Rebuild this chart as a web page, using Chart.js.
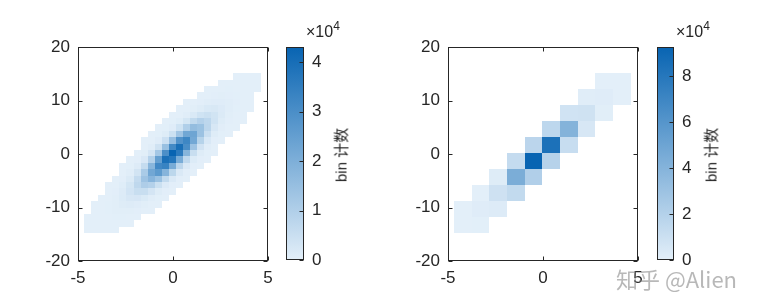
<!DOCTYPE html>
<html lang="zh-CN">
<head>
<meta charset="UTF-8">
<title>histogram2 tile</title>
<script src="https://cdn.jsdelivr.net/npm/chart.js"></script>
<style>
  body { margin: 0; background: #fff; }
  #fig { position: relative; width: 761px; height: 307px; overflow: hidden; color: #262626;
         font-family: "Liberation Sans", Arial, sans-serif; }
  #fig canvas { position: absolute; top: 0; }
  .cbtitle { position: absolute; font-size: 15px; white-space: nowrap; line-height: 15px;
             transform: translate(-50%, -50%) rotate(-90deg);
             font-family: "Liberation Sans", "Noto Sans CJK SC", sans-serif; }
  .expo { position: absolute; font-size: 16px; line-height: 18px; white-space: nowrap; }
  .expo sup { font-size: 12px; vertical-align: 7px; line-height: 0; }
  .wm { position: absolute; left: 616px; top: 262px; font-size: 22px; white-space: nowrap;
        color: rgba(125, 125, 125, 0.55); font-family: "Noto Sans CJK SC", "Liberation Sans", sans-serif; }
</style>
</head>
<body>
<div id="fig">
  <canvas id="heatL" width="280" height="307" style="left:0px"></canvas>
  <canvas id="cbL" width="90" height="307" style="left:270px"></canvas>
  <canvas id="heatR" width="280" height="307" style="left:370px"></canvas>
  <canvas id="cbR" width="90" height="307" style="left:641px"></canvas>
  <div class="expo" style="left:306px; top:23px">×10<sup>4</sup></div>
  <div class="expo" style="left:676px; top:23px">×10<sup>4</sup></div>
  <div class="cbtitle" style="left:341px; top:155px">bin 计数</div>
  <div class="cbtitle" style="left:711px; top:155px">bin 计数</div>
  <div class="wm">知乎 @Alien</div>
</div>

<script>
// bin edges (left plot: fine bins, right plot: coarse bins)
const xEdgesLeft = [-4.68, -4.308, -3.936, -3.564, -3.192, -2.82, -2.448, -2.076, -1.704, -1.332,
                    -0.96, -0.588, -0.216, 0.156, 0.528, 0.9, 1.272, 1.644, 2.016, 2.388,
                    2.76, 3.132, 3.504, 3.876, 4.248, 4.62];
const yEdgesLeft = [-14.8, -13.604, -12.408, -11.212, -10.016, -8.82, -7.624, -6.428, -5.232, -4.036,
                    -2.84, -1.644, -0.448, 0.748, 1.944, 3.14, 4.336, 5.532, 6.728, 7.924,
                    9.12, 10.316, 11.512, 12.708, 13.904, 15.1];
const xEdgesRight = [-4.68, -3.75, -2.82, -1.89, -0.96, -0.03, 0.9, 1.83, 2.76, 3.69, 4.62];
const yEdgesRight = [-14.8, -11.81, -8.82, -5.83, -2.84, 0.15, 3.14, 6.13, 9.12, 12.11, 15.1];

// first non-empty y bin of each x column, then the counts going up
const colStartLeft = [0, 0, 0, 0, 0, 1, 1, 2, 3, 3, 4, 5, 6, 7, 8, 9, 10, 11, 12, 14, 15, 16, 17, 19, 22];
const countsLeft = [
  [2, 2, 1],
  [5, 8, 8, 5, 2],
  [10, 24, 36, 36, 23, 9],
  [11, 40, 92, 137, 131, 81, 32, 8],
  [8, 41, 140, 316, 456, 423, 254, 97, 24],
  [24, 126, 430, 933, 1310, 1190, 689, 257, 62, 10],
  [9, 68, 349, 1140, 2420, 3290, 2880, 1620, 588, 136, 21],
  [21, 166, 820, 2640, 5400, 7160, 6080, 3340, 1170, 268, 38],
  [47, 349, 1700, 5250, 10500, 13600, 11200, 5950, 2050, 449, 64, 6],
  [8, 89, 652, 3040, 9210, 17900, 22200, 17800, 9200, 3050, 650, 90, 8],
  [13, 148, 1040, 4740, 14000, 26200, 31800, 24800, 12400, 4010, 832, 110, 10],
  [20, 212, 1470, 6480, 18400, 33600, 39400, 29700, 14500, 4510, 912, 119, 10],
  [25, 266, 1780, 7590, 21000, 37200, 43100, 31300, 14800, 4450, 880, 111, 9],
  [28, 287, 1860, 7770, 20800, 35900, 39800, 28400, 13000, 3840, 728, 90, 7],
  [28, 273, 1730, 6910, 18100, 30100, 32400, 22400, 9970, 2860, 532, 63, 5],
  [23, 224, 1350, 5350, 13500, 22000, 23000, 15500, 6660, 1880, 333, 39],
  [18, 160, 948, 3590, 8830, 13900, 14100, 9190, 3850, 1040, 182, 20],
  [11, 99, 563, 2090, 5010, 7660, 7550, 4790, 1950, 515, 87, 10],
  [6, 52, 294, 1070, 2460, 3670, 3520, 2170, 862, 220, 36],
  [25, 136, 468, 1060, 1520, 1410, 847, 325, 81, 13],
  [10, 53, 180, 391, 550, 498, 288, 108, 26],
  [4, 18, 61, 128, 174, 153, 86, 31, 7],
  [1, 5, 17, 35, 47, 40, 22, 8],
  [1, 4, 9, 11, 9, 5],
  [2, 2, 2]
];

const colStartRight = [0, 0, 1, 2, 3, 4, 5, 6, 7, 8];
const countsRight = [
  [60, 8],
  [320, 1800, 210],
  [2600, 9000, 2200],
  [14000, 44000, 13000],
  [21000, 92600, 17000],
  [19000, 84000, 16000],
  [12000, 40000, 8000],
  [5000, 8500, 1200],
  [700, 1800, 150],
  [30, 50]
];

const xTicks = [-5, 0, 5];
const yTicks = [-20, -10, 0, 10, 20];
const cbTicksLeft = [0, 10000, 20000, 30000, 40000];
const cbTicksRight = [0, 20000, 40000, 60000, 80000];
const cbMaxLeft = 43100;
const cbMaxRight = 92600;

const INK = '#262626';
Chart.defaults.font.family = '"Liberation Sans", Arial, sans-serif';
Chart.defaults.font.size = 17;
Chart.defaults.color = INK;

// sky-like colormap
const skyLo = [227, 239, 249], skyHi = [8, 100, 178];
function skyColor(t) {
  t = Math.max(0, Math.min(1, t));
  const c = skyLo.map((a, i) => Math.round(a + (skyHi[i] - a) * t));
  return 'rgb(' + c.join(',') + ')';
}

const tilePlugin = {
  id: 'tiles',
  beforeDatasetsDraw(chart, args, o) {
    if (!o.counts) return;
    const { ctx, chartArea: a, scales: { x, y } } = chart;
    ctx.save();
    ctx.beginPath();
    ctx.rect(a.left, a.top, a.right - a.left, a.bottom - a.top);
    ctx.clip();
    o.counts.forEach((col, i) => {
      col.forEach((v, k) => {
        if (!v) return;
        const j = o.starts[i] + k;
        const x0 = Math.round(x.getPixelForValue(o.xEdges[i]));
        const x1 = Math.round(x.getPixelForValue(o.xEdges[i + 1]));
        const y0 = Math.round(y.getPixelForValue(o.yEdges[j]));
        const y1 = Math.round(y.getPixelForValue(o.yEdges[j + 1]));
        ctx.fillStyle = skyColor(v / o.max);
        ctx.fillRect(x0, y1, x1 - x0, y0 - y1);
      });
    });
    ctx.restore();
  }
};

const gradPlugin = {
  id: 'cbar',
  beforeDatasetsDraw(chart, args, o) {
    if (!o.max) return;
    const { ctx, chartArea: a, scales: { y } } = chart;
    const g = ctx.createLinearGradient(0, y.getPixelForValue(0), 0, y.getPixelForValue(o.max));
    g.addColorStop(0, skyColor(0));
    g.addColorStop(0.5, skyColor(0.5));
    g.addColorStop(1, skyColor(1));
    ctx.save();
    ctx.fillStyle = g;
    ctx.fillRect(a.left, a.top, a.right - a.left, a.bottom - a.top);
    ctx.restore();
  }
};

// axes box with inward ticks, like matlab
const boxPlugin = {
  id: 'box',
  afterDraw(chart, args, o) {
    const { ctx, chartArea: a, scales } = chart;
    const L = Math.round(a.left) + 0.5, R = Math.round(a.right) - 0.5;
    const T = Math.round(a.top) + 0.5, B = Math.round(a.bottom) - 0.5;
    const len = o.len || 4;
    ctx.save();
    ctx.strokeStyle = INK;
    ctx.lineWidth = 1;
    ctx.strokeRect(L, T, R - L, B - T);
    ctx.beginPath();
    if (o.xTicks) {
      scales.x.ticks.forEach(t => {
        const p = Math.round(scales.x.getPixelForValue(t.value)) + 0.5;
        ctx.moveTo(p, B); ctx.lineTo(p, B - len);
        ctx.moveTo(p, T); ctx.lineTo(p, T + len);
      });
    }
    scales.y.ticks.forEach(t => {
      const p = Math.round(scales.y.getPixelForValue(t.value)) + 0.5;
      if (o.yLeft) { ctx.moveTo(L, p); ctx.lineTo(L + len, p); }
      ctx.moveTo(R, p); ctx.lineTo(R - len, p);
    });
    ctx.stroke();
    ctx.restore();
  }
};

function heatChart(id, xEdges, yEdges, starts, counts, max) {
  return new Chart(document.getElementById(id), {
    type: 'scatter',
    data: { datasets: [] },
    options: {
      responsive: false,
      animation: false,
      devicePixelRatio: 1,
      layout: { padding: { left: 0, right: 12, top: 47, bottom: 0 } },
      plugins: {
        legend: { display: false },
        tooltip: { enabled: false },
        tiles: { xEdges, yEdges, starts, counts, max },
        box: { xTicks: true, yLeft: true, len: 4 }
      },
      scales: {
        x: {
          type: 'linear', min: -5, max: 5,
          afterBuildTicks: s => { s.ticks = xTicks.map(v => ({ value: v })); },
          ticks: { padding: 7, maxRotation: 0 },
          grid: { display: false, drawTicks: false },
          border: { display: false },
          afterFit: s => { s.height = 46; }
        },
        y: {
          type: 'linear', min: -20, max: 20,
          afterBuildTicks: s => { s.ticks = yTicks.map(v => ({ value: v })); },
          ticks: { padding: 8 },
          grid: { display: false, drawTicks: false },
          border: { display: false },
          afterFit: s => { s.width = 78; }
        }
      }
    },
    plugins: [tilePlugin, boxPlugin]
  });
}

function colorbar(id, max, tickVals, barWidth) {
  return new Chart(document.getElementById(id), {
    type: 'scatter',
    data: { datasets: [] },
    options: {
      responsive: false,
      animation: false,
      devicePixelRatio: 1,
      layout: { padding: { left: 16, right: 0, top: 47, bottom: 47 } },
      plugins: {
        legend: { display: false },
        tooltip: { enabled: false },
        cbar: { max },
        box: { xTicks: false, yLeft: false, len: 4 }
      },
      scales: {
        x: { display: false, min: 0, max: 1 },
        y: {
          type: 'linear', position: 'right', min: 0, max: max,
          afterBuildTicks: s => { s.ticks = tickVals.map(v => ({ value: v })); },
          ticks: { padding: 8, callback: v => v / 10000 },
          grid: { display: false, drawTicks: false },
          border: { display: false },
          afterFit: s => { s.width = 90 - 16 - barWidth; }
        }
      }
    },
    plugins: [gradPlugin, boxPlugin]
  });
}

heatChart('heatL', xEdgesLeft, yEdgesLeft, colStartLeft, countsLeft, cbMaxLeft);
colorbar('cbL', cbMaxLeft, cbTicksLeft, 18);
heatChart('heatR', xEdgesRight, yEdgesRight, colStartRight, countsRight, cbMaxRight);
colorbar('cbR', cbMaxRight, cbTicksRight, 17);
</script>
</body>
</html>
